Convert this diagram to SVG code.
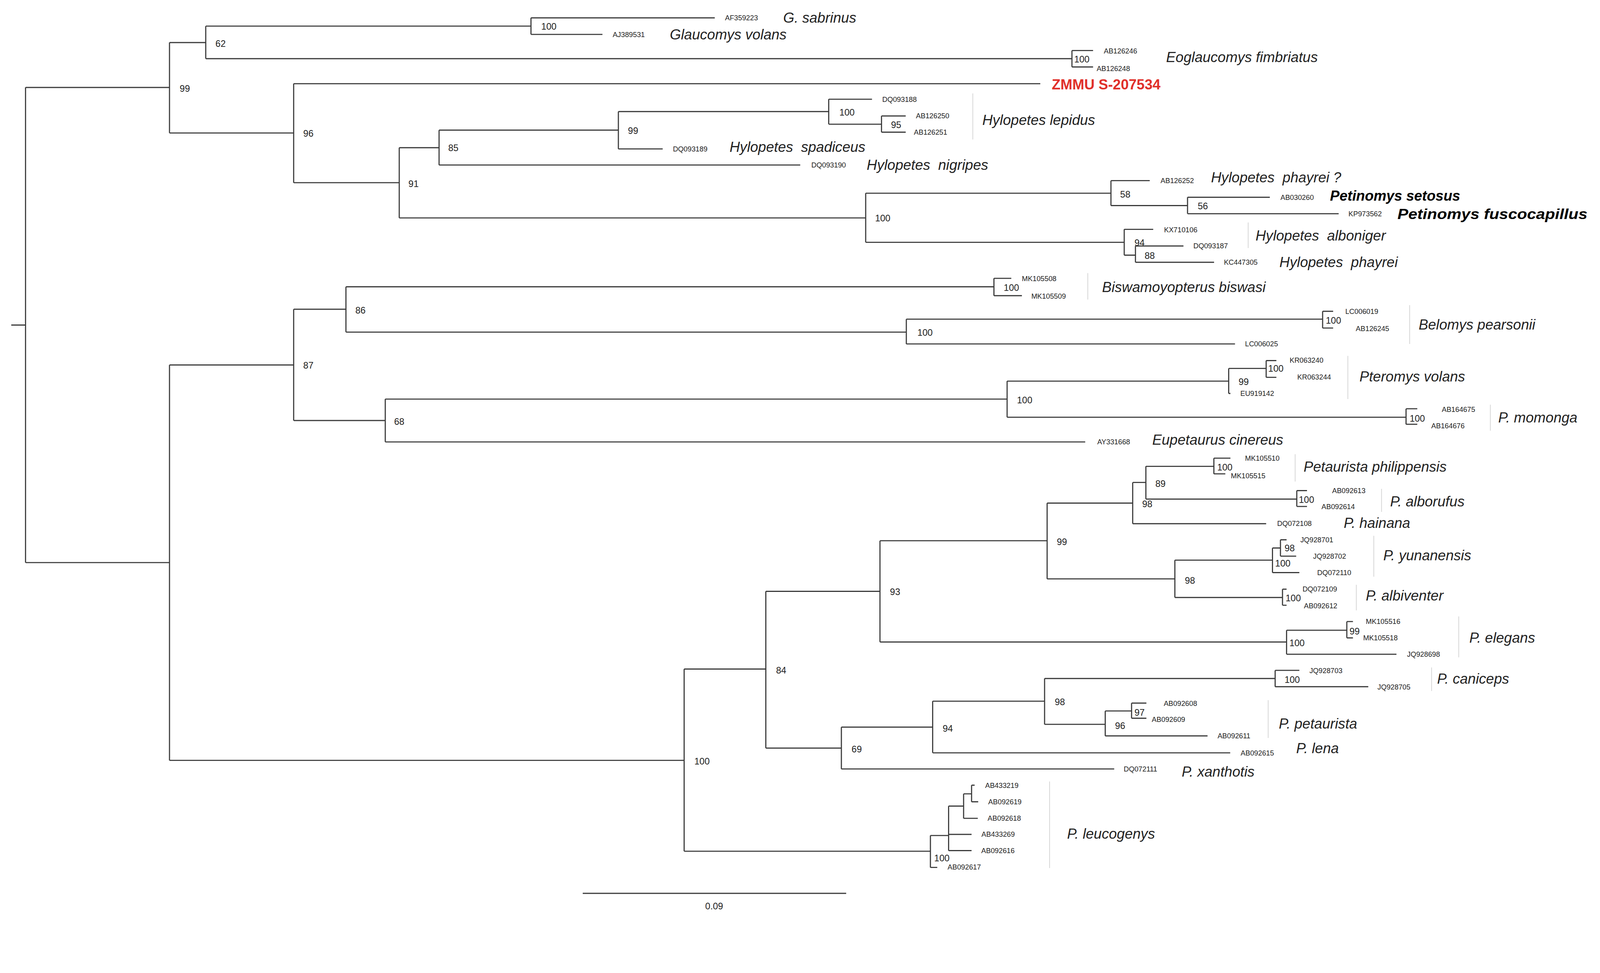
<svg xmlns="http://www.w3.org/2000/svg" width="4345" height="2492" viewBox="0 0 4345 2492">
<style>
.e{fill:none;stroke:#3a3a3a;stroke-width:1.1}
.br{fill:none;stroke:#d8d8d8;stroke-width:0.8}
text{font-family:"Liberation Sans",Arial,sans-serif;dominant-baseline:central;fill:#222;white-space:pre}
.a{font-size:7px}
.b{font-size:9px}
.s{font-size:14px;font-style:italic}
.sb{font-size:14px;font-style:italic;font-weight:bold;fill:#000}
.z{font-size:14px;font-weight:bold;fill:#e0302a}
</style>
<rect width="4345" height="2492" fill="#fff"/>
<g transform="scale(2.614)">
<g id="connectors">
<path class="e" d="M11 318.5H25M25 85.7V551.2M25 85.7H166M25 551.2H166
M166 41.7V130.3M166 41.7H201.5M201.5 25.6V57.5M201.5 25.6H520M201.5 57.5H1049.8
M520 17.5V33.7M520 17.5H700M520 33.7H590
M1049.8 49.5V65.6M1049.8 49.5H1070.5M1049.8 65.6H1070.5
M166 130.3H287.6M287.6 82V179M287.6 82H1018.8M287.6 179H391
M391 144.7V213.5M391 144.7H430M391 213.5H847.8
M430 127.5V161.7M430 127.5H605.6M430 161.7H783.7
M605.6 109.3V145.9M605.6 109.3H811.6M605.6 145.9H649
M811.6 97.2V121.7M811.6 97.2H854M811.6 121.7H863.3
M863.3 113.6V129.5M863.3 113.6H887M863.3 129.5H887
M847.8 189.3V237.4M847.8 189.3H1088M847.8 237.4H1101
M1088 177V201.4M1088 177H1126M1088 201.4H1163
M1163 193.3V209.4M1163 193.3H1243.6M1163 209.4H1311
M1101 224.7V250M1101 224.7H1129.4M1101 250H1112
M1112 241V257M1112 241H1159M1112 257H1189
M166 357.6V745M166 357.6H287.6M166 745H670
M287.6 303V412M287.6 303H338.8M287.6 412H377.3
M338.8 281V325.4M338.8 281H973.4M338.8 325.4H887.6
M973.4 272.7V289.7M973.4 272.7H990.4M973.4 289.7H1000.8
M887.6 312.7V337M887.6 312.7H1295.3M887.6 337H1209.5
M1295.3 305V321.4M1295.3 305H1305.6M1295.3 321.4H1305.6
M377.3 391V433M377.3 391H986.3M377.3 433H1062.8
M986.3 373.4V408.8M986.3 373.4H1203.3M986.3 408.8H1377
M1203.3 361V385.5M1203.3 361H1240M1203.3 385.5H1205
M1240 353.3V369.7M1240 353.3H1250M1240 369.7H1250
M1377 400.5V415.7M1377 400.5H1388M1377 415.7H1388
M670 655.5V834M670 655.5H750M670 834H911.2
M750 579.4V733M750 579.4H861.8M750 733H824
M861.8 529.8V629M861.8 529.8H1025.5M861.8 629H1260
M1025.5 492.9V567.2M1025.5 492.9H1109.3M1025.5 567.2H1150.6
M1109.3 472.7V513.1M1109.3 472.7H1122.2M1109.3 513.1H1240
M1122.2 456.9V489M1122.2 456.9H1188.8M1122.2 489H1270
M1188.8 448.9V464.3M1188.8 448.9H1205M1188.8 464.3H1200
M1270 480.7V496.2M1270 480.7H1280M1270 496.2H1280
M1150.6 548.8V585.4M1150.6 548.8H1246.2M1150.6 585.4H1256
M1246.2 536.9V561M1246.2 536.9H1254M1246.2 561H1272.5
M1254 528.9V544.9M1254 528.9H1260M1254 544.9H1269.4
M1256 577.3V593M1256 577.3H1260M1256 593H1260
M1260 617.5V641M1260 617.5H1319M1260 641H1367.6
M1319 609V625M1319 609H1325M1319 625H1325
M824 712.4V753.4M824 712.4H913.4M824 753.4H1091.2
M913.4 687V737.6M913.4 687H1023M913.4 737.6H1204.8
M1023 664.8V709.7M1023 664.8H1248.8M1023 709.7H1082.4
M1248.8 656.8V672.8M1248.8 656.8H1272.5M1248.8 672.8H1340
M1082.4 696.6V721M1082.4 696.6H1108.2M1082.4 721H1182.6
M1108.2 688.9V703.7M1108.2 688.9H1122.7M1108.2 703.7H1122.7
M911.2 818.6V849.9M911.2 818.6H929M911.2 849.9H917.9
M929 789.8V833.4M929 817.5H951.5M929 833.4H951.5M929 789.8H943.7
M943.7 777.8V801.8M943.7 801.8H957.6M943.7 777.8H951.5
M951.5 769.3V785.6M951.5 769.3H954.5M951.5 785.6H958
M570.7 875.3H828.7"/>
<path class="br" d="M952.7 91.5V136.7M1222.4 218V243M1065.3 267.6V293.5M1380.5 299V337M1320 348.7V391M1459.6 396.5V422M1268.4 445V471.8M1353 479V501.5M1345.4 525V565M1328.3 573V598M1428.6 604V644M1402 654V677M1242 686V723M1027.9 765.7V850.5"/>
</g>
<g id="tips">
<text class="a" x="710" y="17.5">AF359223</text>
<text class="a" x="600" y="33.7">AJ389531</text>
<text class="a" x="1081" y="50">AB126246</text>
<text class="a" x="1074" y="67">AB126248</text>
<text class="a" x="864" y="97.5">DQ093188</text>
<text class="a" x="897" y="113.6">AB126250</text>
<text class="a" x="895" y="129.5">AB126251</text>
<text class="a" x="659" y="145.9">DQ093189</text>
<text class="a" x="794.6" y="161.7">DQ093190</text>
<text class="a" x="1136.6" y="177">AB126252</text>
<text class="a" x="1254" y="193.3">AB030260</text>
<text class="a" x="1320.6" y="209.4">KP973562</text>
<text class="a" x="1140" y="225">KX710106</text>
<text class="a" x="1168.7" y="241">DQ093187</text>
<text class="a" x="1198.6" y="257">KC447305</text>
<text class="a" x="1000.8" y="273">MK105508</text>
<text class="a" x="1010" y="290">MK105509</text>
<text class="a" x="1317.5" y="305">LC006019</text>
<text class="a" x="1327.8" y="322">AB126245</text>
<text class="a" x="1219.3" y="337">LC006025</text>
<text class="a" x="1263" y="353">KR063240</text>
<text class="a" x="1270.5" y="369.5">KR063244</text>
<text class="a" x="1214.7" y="385.5">EU919142</text>
<text class="a" x="1412" y="401">AB164675</text>
<text class="a" x="1401.7" y="417">AB164676</text>
<text class="a" x="1074.6" y="433">AY331668</text>
<text class="a" x="1219.3" y="449">MK105510</text>
<text class="a" x="1205.4" y="466">MK105515</text>
<text class="a" x="1304.6" y="480.5">AB092613</text>
<text class="a" x="1294.2" y="496.5">AB092614</text>
<text class="a" x="1250.8" y="513">DQ072108</text>
<text class="a" x="1273.5" y="529">JQ928701</text>
<text class="a" x="1286" y="545">JQ928702</text>
<text class="a" x="1290" y="561">DQ072110</text>
<text class="a" x="1275.6" y="577">DQ072109</text>
<text class="a" x="1277" y="593.5">AB092612</text>
<text class="a" x="1337.6" y="609">MK105516</text>
<text class="a" x="1335" y="625">MK105518</text>
<text class="a" x="1378" y="641">JQ928698</text>
<text class="a" x="1282.4" y="657">JQ928703</text>
<text class="a" x="1349" y="673">JQ928705</text>
<text class="a" x="1139.7" y="689">AB092608</text>
<text class="a" x="1128" y="705">AB092609</text>
<text class="a" x="1192.4" y="721">AB092611</text>
<text class="a" x="1215" y="737.6">AB092615</text>
<text class="a" x="1100.5" y="753.4">DQ072111</text>
<text class="a" x="964.8" y="769.5">AB433219</text>
<text class="a" x="967.8" y="785.6">AB092619</text>
<text class="a" x="967.2" y="801.8">AB092618</text>
<text class="a" x="961.2" y="817.5">AB433269</text>
<text class="a" x="961" y="833.4">AB092616</text>
<text class="a" x="928" y="849.5">AB092617</text>
</g>
<g id="species">
<text class="s" x="767" y="17.5">G. sabrinus</text>
<text class="s" x="656" y="33.7">Glaucomys volans</text>
<text class="s" x="1142" y="56">Eoglaucomys fimbriatus</text>
<text class="z" x="1030" y="83">ZMMU S-207534</text>
<text class="s" x="962" y="117.5">Hylopetes lepidus</text>
<text class="s" x="714.5" y="144">Hylopetes  spadiceus</text>
<text class="s" x="848.8" y="161.7">Hylopetes  nigripes</text>
<text class="s" x="1186" y="174">Hylopetes  phayrei ?</text>
<text class="sb" x="1302.5" y="192">Petinomys setosus</text>
<text class="sb" x="1368.6" y="210" textLength="186" lengthAdjust="spacingAndGlyphs">Petinomys fuscocapillus</text>
<text class="s" x="1229.6" y="231">Hylopetes  alboniger</text>
<text class="s" x="1253" y="257">Hylopetes  phayrei</text>
<text class="s" x="1079.3" y="281.5">Biswamoyopterus biswasi</text>
<text class="s" x="1389.3" y="318">Belomys pearsonii</text>
<text class="s" x="1331.4" y="369">Pteromys volans</text>
<text class="s" x="1467.3" y="409">P. momonga</text>
<text class="s" x="1128.4" y="431">Eupetaurus cinereus</text>
<text class="s" x="1276.7" y="457.5">Petaurista philippensis</text>
<text class="s" x="1361.4" y="491.5">P. alborufus</text>
<text class="s" x="1316" y="512.5">P. hainana</text>
<text class="s" x="1354.7" y="544">P. yunanensis</text>
<text class="s" x="1337.6" y="583.5">P. albiventer</text>
<text class="s" x="1439" y="625">P. elegans</text>
<text class="s" x="1407.4" y="665">P. caniceps</text>
<text class="s" x="1252.4" y="709">P. petaurista</text>
<text class="s" x="1269.4" y="733">P. lena</text>
<text class="s" x="1157.3" y="756">P. xanthotis</text>
<text class="s" x="1045" y="817">P. leucogenys</text>
</g>
<g id="support">
<text class="b" x="211" y="43">62</text>
<text class="b" x="176" y="87">99</text>
<text class="b" x="530" y="26">100</text>
<text class="b" x="1052" y="58">100</text>
<text class="b" x="297" y="131">96</text>
<text class="b" x="400" y="180">91</text>
<text class="b" x="439" y="145">85</text>
<text class="b" x="615" y="128">99</text>
<text class="b" x="822" y="110">100</text>
<text class="b" x="872.6" y="122.5">95</text>
<text class="b" x="857" y="214">100</text>
<text class="b" x="1097" y="190.5">58</text>
<text class="b" x="1173" y="202">56</text>
<text class="b" x="1111" y="238">94</text>
<text class="b" x="1121" y="250.5">88</text>
<text class="b" x="348" y="304">86</text>
<text class="b" x="297" y="358">87</text>
<text class="b" x="983" y="282">100</text>
<text class="b" x="898.4" y="326">100</text>
<text class="b" x="1298.4" y="314">100</text>
<text class="b" x="386" y="413">68</text>
<text class="b" x="996" y="392">100</text>
<text class="b" x="1213" y="374">99</text>
<text class="b" x="1242" y="361">100</text>
<text class="b" x="1380.5" y="410">100</text>
<text class="b" x="680" y="746">100</text>
<text class="b" x="760" y="657">84</text>
<text class="b" x="871.6" y="580">93</text>
<text class="b" x="1035" y="531">99</text>
<text class="b" x="1118.6" y="494">98</text>
<text class="b" x="1131.5" y="474">89</text>
<text class="b" x="1192" y="458">100</text>
<text class="b" x="1272" y="489.5">100</text>
<text class="b" x="1160.4" y="569">98</text>
<text class="b" x="1248.8" y="552">100</text>
<text class="b" x="1258" y="537">98</text>
<text class="b" x="1259" y="586">100</text>
<text class="b" x="1262.7" y="630">100</text>
<text class="b" x="1321.6" y="618.5">99</text>
<text class="b" x="834" y="734">69</text>
<text class="b" x="923.2" y="714">94</text>
<text class="b" x="1033" y="688">98</text>
<text class="b" x="1258" y="666">100</text>
<text class="b" x="1092" y="711">96</text>
<text class="b" x="1111" y="698">97</text>
<text class="b" x="914.9" y="841">100</text>
<text class="b" x="699.4" y="888" text-anchor="middle">0.09</text>
</g>
</g>
</svg>
